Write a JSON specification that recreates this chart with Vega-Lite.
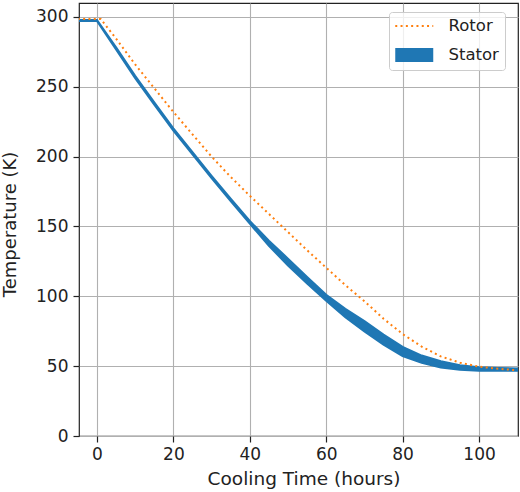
{
  "$schema": "https://vega.github.io/schema/vega-lite/v6.json",
  "width": 439,
  "height": 433,
  "autosize": {"type": "none"},
  "padding": {"left": 79, "top": 3, "right": 2, "bottom": 56},
  "background": "white",
  "config": {
    "font": "DejaVu Sans",
    "view": {"stroke": "#222222", "strokeWidth": 1.2},
    "axis": {
      "grid": true,
      "gridColor": "#b0b0b0",
      "gridWidth": 1.1,
      "domain": false,
      "tickColor": "#222222",
      "tickSize": 6,
      "tickWidth": 1.2,
      "labelFont": "DejaVu Sans",
      "labelFontSize": 17,
      "labelColor": "#222222",
      "titleFont": "DejaVu Sans",
      "titleFontSize": 18.5,
      "titleFontWeight": "normal",
      "titleColor": "#222222"
    }
  },
  "datasets": {
    "stator": [
      {"t": -5, "lo": 297.2, "hi": 297.8, "series": "Stator"},
      {"t": 0, "lo": 297.1, "hi": 297.9, "series": "Stator"},
      {"t": 5, "lo": 276.7, "hi": 278.3, "series": "Stator"},
      {"t": 10, "lo": 256.2, "hi": 257.8, "series": "Stator"},
      {"t": 15, "lo": 237.2, "hi": 238.8, "series": "Stator"},
      {"t": 20, "lo": 218.7, "hi": 220.3, "series": "Stator"},
      {"t": 25, "lo": 201.7, "hi": 203.3, "series": "Stator"},
      {"t": 30, "lo": 184.7, "hi": 186.3, "series": "Stator"},
      {"t": 35, "lo": 168.1, "hi": 169.9, "series": "Stator"},
      {"t": 40, "lo": 152, "hi": 154, "series": "Stator"},
      {"t": 45, "lo": 136.2, "hi": 139.8, "series": "Stator"},
      {"t": 50, "lo": 122, "hi": 127, "series": "Stator"},
      {"t": 55, "lo": 109.2, "hi": 113.8, "series": "Stator"},
      {"t": 60, "lo": 96.9, "hi": 101.1, "series": "Stator"},
      {"t": 65, "lo": 85, "hi": 91, "series": "Stator"},
      {"t": 70, "lo": 74.8, "hi": 82.2, "series": "Stator"},
      {"t": 75, "lo": 65.4, "hi": 72.6, "series": "Stator"},
      {"t": 80, "lo": 57.2, "hi": 63.8, "series": "Stator"},
      {"t": 85, "lo": 52.4, "hi": 57.6, "series": "Stator"},
      {"t": 90, "lo": 49.1, "hi": 53.5, "series": "Stator"},
      {"t": 95, "lo": 47.4, "hi": 50.6, "series": "Stator"},
      {"t": 100, "lo": 46.7, "hi": 49.3, "series": "Stator"},
      {"t": 105, "lo": 46.7, "hi": 48.7, "series": "Stator"},
      {"t": 110, "lo": 46.7, "hi": 48.3, "series": "Stator"}
    ],
    "rotor": [
      {"t": -5, "T": 298.5, "series": "Rotor"},
      {"t": 1, "T": 298.5, "series": "Rotor"},
      {"t": 5, "T": 284.5, "series": "Rotor"},
      {"t": 10, "T": 266, "series": "Rotor"},
      {"t": 15, "T": 249, "series": "Rotor"},
      {"t": 20, "T": 232, "series": "Rotor"},
      {"t": 25, "T": 216, "series": "Rotor"},
      {"t": 30, "T": 200, "series": "Rotor"},
      {"t": 35, "T": 185.5, "series": "Rotor"},
      {"t": 40, "T": 172, "series": "Rotor"},
      {"t": 45, "T": 159, "series": "Rotor"},
      {"t": 50, "T": 146, "series": "Rotor"},
      {"t": 55, "T": 133, "series": "Rotor"},
      {"t": 60, "T": 120.5, "series": "Rotor"},
      {"t": 65, "T": 108, "series": "Rotor"},
      {"t": 70, "T": 96.5, "series": "Rotor"},
      {"t": 75, "T": 84, "series": "Rotor"},
      {"t": 80, "T": 73, "series": "Rotor"},
      {"t": 85, "T": 64, "series": "Rotor"},
      {"t": 90, "T": 57, "series": "Rotor"},
      {"t": 95, "T": 52.5, "series": "Rotor"},
      {"t": 100, "T": 49.6, "series": "Rotor"},
      {"t": 105, "T": 48.2, "series": "Rotor"},
      {"t": 110, "T": 47, "series": "Rotor"}
    ]
  },
  "encoding": {
    "x": {
      "field": "t",
      "type": "quantitative",
      "scale": {"domain": [-4.7, 110.2], "nice": false, "zero": false},
      "axis": {"title": "Cooling Time (hours)", "values": [0, 20, 40, 60, 80, 100], "labelPadding": 4, "titlePadding": 7, "titleX": 224.5}
    }
  },
  "layer": [
    {
      "data": {"name": "stator"},
      "mark": {"type": "area", "color": "#1f77b4", "fill": "#1f77b4", "stroke": "#1f77b4", "strokeWidth": 2, "opacity": 1, "fillOpacity": 1, "clip": true},
      "encoding": {
        "y": {
          "field": "lo",
          "type": "quantitative",
          "scale": {"domain": [0, 310], "nice": false, "zero": true},
          "axis": {"title": "Temperature (K)", "titleFontSize": 18, "titleY": 221, "values": [0, 50, 100, 150, 200, 250, 300], "labelPadding": 5, "titlePadding": 16}
        },
        "y2": {"field": "hi"}
      }
    },
    {
      "data": {"name": "rotor"},
      "mark": {"type": "line", "strokeWidth": 2, "strokeCap": "butt", "clip": true},
      "encoding": {
        "y": {"field": "T", "type": "quantitative"},
        "strokeDash": {
          "field": "series",
          "type": "nominal",
          "scale": {"domain": ["Rotor", "Stator"], "range": [[2, 3.3], [1, 0]]},
          "legend": null
        },
        "color": {
          "field": "series",
          "type": "nominal",
          "scale": {"domain": ["Rotor", "Stator"], "range": ["#ff7f0e", "#1f77b4"]},
          "legend": {
            "title": null,
            "orient": "none",
            "legendX": 310,
            "legendY": 9,
            "padding": 6,
            "clipHeight": 16,
            "rowPadding": 11.9,
            "symbolType": "stroke",
            "symbolSize": 1444,
            "symbolOffset": 11,
            "symbolOpacity": 1,
            "symbolStrokeWidth": {"expr": "datum.value === 'Rotor' ? 2 : 14"},
            "symbolDash": {"expr": "datum.value === 'Rotor' ? [2, 3.3] : [1, 0]"},
            "labelOffset": 26,
            "labelFont": "DejaVu Sans",
            "labelFontSize": 16.5,
            "labelColor": "#222222",
            "strokeColor": "#cccccc",
            "fillColor": "rgba(255,255,255,0.8)",
            "cornerRadius": 3
          }
        }
      }
    }
  ]
}
